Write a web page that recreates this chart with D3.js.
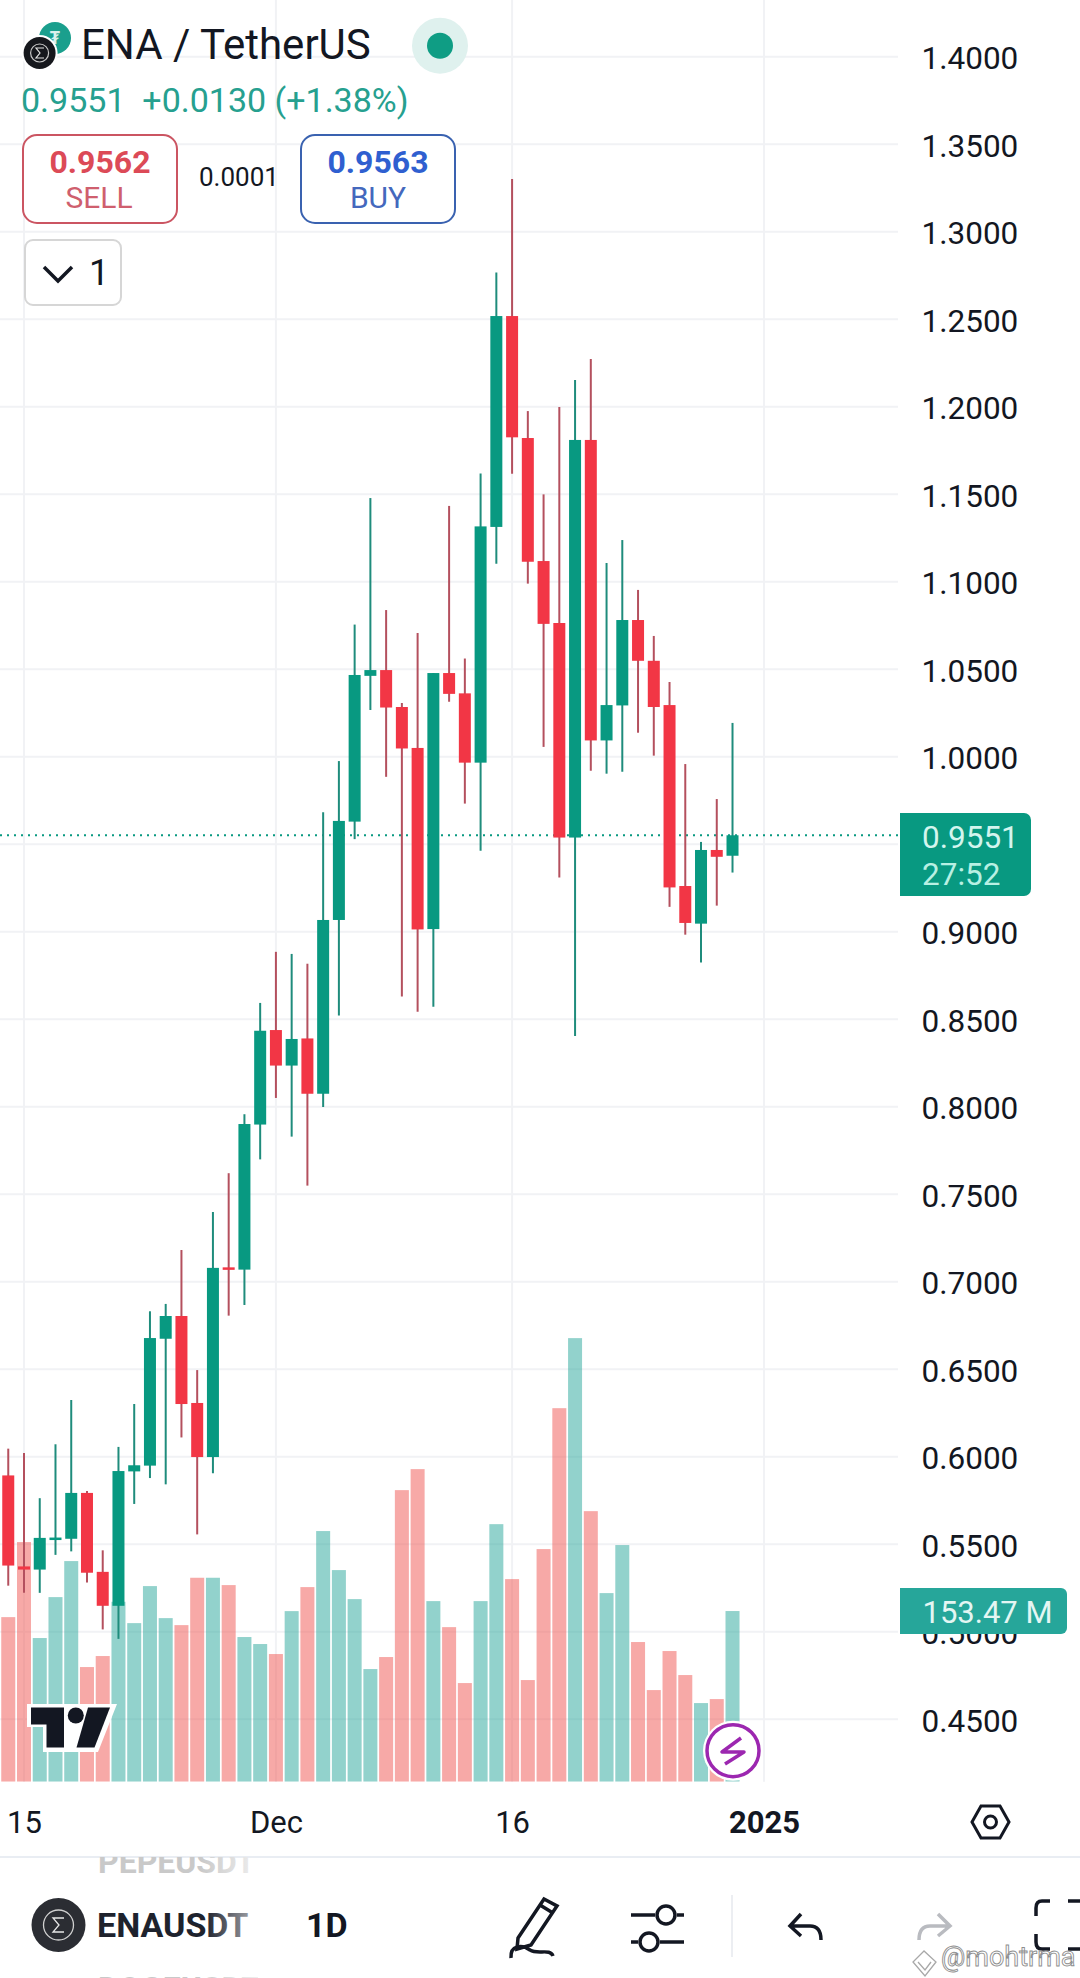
<!DOCTYPE html>
<html>
<head>
<meta charset="utf-8">
<script src="https://cdn.jsdelivr.net/npm/d3@7"></script>
<style>
  html, body { margin: 0; padding: 0; background: #fff; }
  svg { display: block; }
  text { font-family: Roboto, "Noto Sans", sans-serif; }
</style>
</head>
<body>
<div id="chart"></div>
<script>
// candles, daily bars (Nov 14 .. Dec 30)
const open = [0.5893, 0.5373, 0.5355, 0.5533, 0.5531, 0.5793, 0.5342, 0.5148, 0.5916, 0.5949, 0.6674, 0.6804, 0.6307, 0.5998, 0.7082, 0.7069, 0.7898, 0.8438, 0.8235, 0.8390, 0.8074, 0.9067, 0.9629, 1.0462, 1.0495, 1.0284, 1.0050, 0.9015, 1.0478, 1.0362, 0.9966, 1.1313, 1.2518, 1.1821, 1.1118, 1.0764, 0.9538, 1.1810, 1.0093, 1.0293, 1.0781, 1.0548, 1.0295, 0.9261, 0.9046, 0.9467, 0.9434]
const high = [0.6046, 0.6021, 0.5763, 0.6071, 0.6324, 0.5804, 0.5465, 0.6056, 0.6301, 0.6831, 0.6873, 0.7181, 0.6495, 0.7398, 0.7620, 0.7957, 0.8593, 0.8885, 0.8873, 0.8817, 0.9682, 0.9975, 1.0755, 1.1478, 1.0838, 1.0307, 1.0707, 1.0478, 1.1433, 1.0561, 1.1619, 1.2767, 1.3301, 1.1975, 1.1499, 1.1998, 1.2153, 1.2273, 1.1107, 1.1238, 1.0953, 1.0690, 1.0427, 0.9958, 0.9513, 0.9758, 1.0193]
const low = [0.5263, 0.5222, 0.5222, 0.5439, 0.5459, 0.5281, 0.5013, 0.4959, 0.5730, 0.5878, 0.5842, 0.6110, 0.5556, 0.5906, 0.6806, 0.6867, 0.7699, 0.8050, 0.7829, 0.7549, 0.7998, 0.8521, 0.9529, 1.0267, 0.9885, 0.8630, 0.8542, 0.8571, 1.0314, 0.9732, 0.9463, 1.1103, 1.1617, 1.0989, 1.0056, 0.9310, 0.8404, 0.9920, 0.9903, 0.9914, 1.0137, 1.0006, 0.9142, 0.8983, 0.8824, 0.9149, 0.9338]
const close = [0.5378, 0.5355, 0.5536, 0.5538, 0.5793, 0.5337, 0.5148, 0.5918, 0.5951, 0.6678, 0.6804, 0.6301, 0.5998, 0.7079, 0.7077, 0.7901, 0.8434, 0.8235, 0.8387, 0.8074, 0.9067, 0.9633, 1.0467, 1.0495, 1.0281, 1.0047, 0.9013, 1.0478, 1.0359, 0.9966, 1.1316, 1.2518, 1.1825, 1.1114, 1.0759, 0.9538, 1.1810, 1.0093, 1.0295, 1.0781, 1.0548, 1.0284, 0.9253, 0.9050, 0.9467, 0.9428, 0.9551]
// volume in millions
const volume = [148.0, 215.5, 129.2, 166.0, 198.4, 103.1, 113.0, 161.8, 142.6, 175.9, 147.1, 140.8, 183.4, 183.4, 176.8, 130.1, 123.8, 114.8, 153.4, 175.0, 225.4, 190.3, 164.2, 101.3, 112.1, 262.2, 281.1, 162.4, 139.0, 88.7, 162.4, 231.6, 182.2, 91.4, 209.2, 335.9, 398.9, 243.3, 169.6, 212.8, 125.6, 82.4, 117.5, 95.9, 70.7, 74.3, 153.47]

const priceTicks = [1.40, 1.35, 1.30, 1.25, 1.20, 1.15, 1.10, 1.05, 1.00, 0.95, 0.90, 0.85, 0.80, 0.75, 0.70, 0.65, 0.60, 0.55, 0.50, 0.45]
const timeTicks = [1, 17, 32, 48]
const timeLabels = ['15', 'Dec', '16', '2025']
const lastPrice = 0.9551

const width = 1080
const height = 1978
const paneRight = 898
const paneBottom = 1781.7

const upColor = '#089981'
const downColor = '#f23645'
const upWick = '#1f8c7c'
const downWick = '#b4505e'
const ink = '#131722'

const svg = d3.select('#chart').append('svg')
    .attr('width', width)
    .attr('height', height)

const x = d3.scaleLinear().domain([1, 48]).range([24, 764])
const y = d3.scaleLinear().domain([1.40, 0.45]).range([56.7, 1719.2])
const yVolume = d3.scaleLinear().domain([0, 400]).range([paneBottom, paneBottom - 444.8])

const isUp = (i) => close[i] >= open[i]
const bars = d3.range(open.length)

// fade for the scrolled symbol list
const defs = svg.append('defs')
const fade = defs.append('linearGradient').attr('id', 'fade')
    .attr('gradientUnits', 'userSpaceOnUse')
    .attr('x1', 205).attr('x2', 250).attr('y1', 0).attr('y2', 0)
fade.append('stop').attr('offset', 0).attr('stop-color', '#1e222d')
fade.append('stop').attr('offset', 1).attr('stop-color', '#9a9ca2')
const fadeGrey = defs.append('linearGradient').attr('id', 'fadeGrey')
    .attr('gradientUnits', 'userSpaceOnUse')
    .attr('x1', 200).attr('x2', 258).attr('y1', 0).attr('y2', 0)
fadeGrey.append('stop').attr('offset', 0).attr('stop-color', '#c9c9c9')
fadeGrey.append('stop').attr('offset', 1).attr('stop-color', '#efefef')
defs.append('clipPath').attr('id', 'listClip').append('rect')
    .attr('x', 0).attr('y', 1857).attr('width', 258).attr('height', 121)
defs.append('clipPath').attr('id', 'paneClip').append('rect')
    .attr('x', 0).attr('y', 0).attr('width', paneRight).attr('height', paneBottom)

// grid
const grid = svg.append('g').attr('class', 'grid')
    .attr('stroke', '#f1f2f5').attr('stroke-width', 2)
grid.selectAll('line.h').data(priceTicks).enter().append('line').attr('class', 'h')
    .attr('x1', 0).attr('x2', paneRight)
    .attr('y1', (d) => y(d)).attr('y2', (d) => y(d))
grid.selectAll('line.v').data(timeTicks).enter().append('line').attr('class', 'v')
    .attr('x1', (d) => x(d)).attr('x2', (d) => x(d))
    .attr('y1', 0).attr('y2', paneBottom)

const pane = svg.append('g').attr('clip-path', 'url(#paneClip)')

// volume
pane.append('g').attr('class', 'volume')
    .selectAll('rect').data(bars).enter().append('rect')
    .attr('x', (i) => x(i) - 7)
    .attr('width', 14)
    .attr('y', (i) => yVolume(volume[i]))
    .attr('height', (i) => yVolume(0) - yVolume(volume[i]))
    .attr('fill', (i) => isUp(i) ? '#26a69a' : '#ef5350')
    .attr('fill-opacity', 0.5)

// last price line
pane.append('line')
    .attr('x1', 0).attr('x2', paneRight)
    .attr('y1', y(lastPrice)).attr('y2', y(lastPrice))
    .attr('stroke', upColor).attr('stroke-width', 2)
    .attr('stroke-dasharray', '2 5')

// candles
const candles = pane.append('g').attr('class', 'candles')
candles.selectAll('line').data(bars).enter().append('line')
    .attr('x1', (i) => x(i)).attr('x2', (i) => x(i))
    .attr('y1', (i) => y(high[i])).attr('y2', (i) => y(low[i]))
    .attr('stroke', (i) => isUp(i) ? upWick : downWick)
    .attr('stroke-width', 2)
candles.selectAll('rect').data(bars).enter().append('rect')
    .attr('x', (i) => x(i) - 6)
    .attr('width', 12)
    .attr('y', (i) => y(Math.max(open[i], close[i])))
    .attr('height', (i) => Math.max(2.5, y(Math.min(open[i], close[i])) - y(Math.max(open[i], close[i]))))
    .attr('fill', (i) => isUp(i) ? upColor : downColor)

// price axis
const priceAxis = svg.append('g')
    .attr('transform', 'translate(921.5,0)')
    .call(d3.axisRight(y).tickValues(priceTicks).tickFormat(d3.format('.4f')).tickSize(0).tickPadding(0))
priceAxis.select('.domain').remove()
priceAxis.selectAll('text')
    .attr('dy', '0.39em')
    .style('font-family', 'Roboto')
    .style('font-size', '31.5px')
    .attr('fill', ink)

// time axis
const timeAxis = svg.append('g')
    .attr('transform', 'translate(0,1798)')
    .call(d3.axisBottom(x).tickValues(timeTicks).tickFormat((d, i) => timeLabels[i]).tickSize(0).tickPadding(0))
timeAxis.select('.domain').remove()
timeAxis.selectAll('text')
    .attr('y', 0).attr('dy', 35)
    .style('font-family', 'Roboto')
    .style('font-size', '31px')
    .style('font-weight', (d, i) => i === 3 ? 700 : 400)
    .attr('fill', ink)

// price and volume tags
const tagPrice = svg.append('g')
tagPrice.append('path')
    .attr('d', 'M900,813H1024a7,7 0 0 1 7,7V889a7,7 0 0 1 -7,7H900Z')
    .attr('fill', upColor)
tagPrice.append('text').attr('x', 922).attr('y', 847.5).attr('font-size', 31.5).attr('fill', '#d3f5ee').text('0.9551')
tagPrice.append('text').attr('x', 922).attr('y', 885).attr('font-size', 31.5).attr('fill', '#b8f0e3').text('27:52')

const tagVolume = svg.append('g')
tagVolume.append('path')
    .attr('d', 'M900,1588H1061a6,6 0 0 1 6,6V1628a6,6 0 0 1 -6,6H900Z')
    .attr('fill', '#26a69a')
tagVolume.append('text').attr('x', 922.5).attr('y', 1622.7).attr('font-size', 31).attr('fill', '#e4f6f3').text('153.47 M')

// header
const head = svg.append('g')
head.append('circle').attr('cx', 55).attr('cy', 38).attr('r', 16).attr('fill', '#1a9f8d')
head.append('text').attr('x', 55).attr('y', 44).attr('text-anchor', 'middle')
    .attr('font-size', 18).attr('font-weight', 700).attr('fill', '#d9f0ec').text('₮')
head.append('circle').attr('cx', 39.6).attr('cy', 53).attr('r', 18).attr('fill', '#fff')
head.append('circle').attr('cx', 39.6).attr('cy', 53).attr('r', 16).attr('fill', '#16181d')
head.append('circle').attr('cx', 39.6).attr('cy', 53).attr('r', 9).attr('fill', 'none')
    .attr('stroke', '#c8c8c8').attr('stroke-width', 1.2)
head.append('path').attr('d', 'M44,48H36L40,53L36,58H44').attr('fill', 'none')
    .attr('stroke', '#e4e4e4').attr('stroke-width', 1.2)
head.append('text').attr('x', 81).attr('y', 59).attr('font-size', 42).attr('fill', ink).text('ENA / TetherUS')
head.append('circle').attr('cx', 440).attr('cy', 45.7).attr('r', 28).attr('fill', '#dff1ee')
head.append('circle').attr('cx', 440).attr('cy', 45.7).attr('r', 13).attr('fill', '#0f9d84')
head.append('text').attr('x', 21).attr('y', 112).attr('font-size', 34).attr('fill', '#26a08f')
    .attr('xml:space', 'preserve').text('0.9551  +0.0130 (+1.38%)')

// sell, buy and the order count
head.append('rect').attr('x', 23).attr('y', 135).attr('width', 154).attr('height', 88).attr('rx', 14)
    .attr('fill', '#fff').attr('stroke', '#cb5562').attr('stroke-width', 2)
head.append('text').attr('x', 100).attr('y', 173).attr('text-anchor', 'middle')
    .attr('font-size', 32).attr('font-weight', 700).attr('fill', '#dc4a57').text('0.9562')
head.append('text').attr('x', 99).attr('y', 208).attr('text-anchor', 'middle')
    .attr('font-size', 30).attr('fill', '#cf5f6e').text('SELL')
head.append('text').attr('x', 199).attr('y', 186).attr('font-size', 26).attr('fill', ink).text('0.0001')
head.append('rect').attr('x', 301).attr('y', 135).attr('width', 154).attr('height', 88).attr('rx', 14)
    .attr('fill', '#fff').attr('stroke', '#3a62b0').attr('stroke-width', 2)
head.append('text').attr('x', 378).attr('y', 173).attr('text-anchor', 'middle')
    .attr('font-size', 32).attr('font-weight', 700).attr('fill', '#2f5fd0').text('0.9563')
head.append('text').attr('x', 378).attr('y', 208).attr('text-anchor', 'middle')
    .attr('font-size', 30).attr('fill', '#4468bd').text('BUY')
head.append('rect').attr('x', 25).attr('y', 240).attr('width', 96).attr('height', 65).attr('rx', 8)
    .attr('fill', '#fff').attr('stroke', '#d6d6d6').attr('stroke-width', 2)
head.append('path').attr('d', 'M44,267L58,281L72,267').attr('fill', 'none')
    .attr('stroke', ink).attr('stroke-width', 3.5)
head.append('text').attr('x', 89).attr('y', 285).attr('font-size', 36).attr('fill', ink).text('1')

// tradingview mark
const logo = svg.append('g')
logo.append('path').attr('d', 'M27,1704H117L98,1752H43V1727H27Z').attr('fill', '#fff')
logo.append('path').attr('d', 'M31,1707.5H64V1747.5H46.5V1724.5H31Z').attr('fill', ink)
logo.append('circle').attr('cx', 75.8).attr('cy', 1715.5).attr('r', 8).attr('fill', ink)
logo.append('path').attr('d', 'M88,1707.5H110L94.5,1747.5H76.5Z').attr('fill', ink)

// lightning badge
const badge = svg.append('g')
badge.append('circle').attr('cx', 733).attr('cy', 1750.7).attr('r', 30).attr('fill', '#fff')
badge.append('circle').attr('cx', 733).attr('cy', 1750.7).attr('r', 26).attr('fill', '#fff')
    .attr('stroke', '#9c27b0').attr('stroke-width', 3.5)
badge.append('path').attr('d', 'M741,1738L722,1752H744L725,1764').attr('fill', 'none')
    .attr('stroke', '#9c27b0').attr('stroke-width', 3.5).attr('stroke-linejoin', 'round')

// settings hexagon
const hex = svg.append('g').attr('fill', 'none').attr('stroke', ink).attr('stroke-width', 3)
hex.append('path').attr('d', 'M981,1806H1000L1009,1822L1000,1838H981L972,1822Z')
hex.append('circle').attr('cx', 990.5).attr('cy', 1822).attr('r', 6)

// bottom toolbar
svg.append('line').attr('x1', 0).attr('x2', width).attr('y1', 1857).attr('y2', 1857)
    .attr('stroke', '#e9edf3').attr('stroke-width', 2)
const list = svg.append('g').attr('clip-path', 'url(#listClip)')
list.append('text').attr('x', 98).attr('y', 1873).attr('font-size', 32).attr('font-weight', 700)
    .attr('fill', 'url(#fadeGrey)').text('PEPEUSDT')
list.append('text').attr('x', 98).attr('y', 1999).attr('font-size', 32).attr('font-weight', 700)
    .attr('fill', 'url(#fadeGrey)').text('DOGEUSDT')
list.append('text').attr('x', 97).attr('y', 1936.7).attr('font-size', 34).attr('font-weight', 700)
    .attr('fill', 'url(#fade)').text('ENAUSDT')

const bar = svg.append('g')
bar.append('circle').attr('cx', 58.5).attr('cy', 1925).attr('r', 27).attr('fill', '#2b2d33')
bar.append('circle').attr('cx', 58.5).attr('cy', 1925).attr('r', 15).attr('fill', 'none')
    .attr('stroke', '#d0d0d0').attr('stroke-width', 1.3)
bar.append('path').attr('d', 'M64,1918H53L59,1925L53,1932H64').attr('fill', 'none')
    .attr('stroke', '#e6e6e6').attr('stroke-width', 1.3)
bar.append('text').attr('x', 306).attr('y', 1937).attr('font-size', 34).attr('font-weight', 700)
    .attr('fill', ink).text('1D')

const tools = bar.append('g').attr('fill', 'none').attr('stroke', ink).attr('stroke-width', 3.5)
// pencil with squiggle
tools.append('path').attr('d', 'M518,1938L544,1899L557,1906L531,1945L517,1949Z M540,1905L553,1913')
tools.append('path').attr('d', 'M511,1958C510,1945 522,1944 530,1950C538,1955 550,1948 553,1956')
// sliders
tools.append('path').attr('d', 'M631,1915H655M677,1915H684M631,1942H638M660,1942H684')
tools.append('circle').attr('cx', 666).attr('cy', 1915).attr('r', 9)
tools.append('circle').attr('cx', 649).attr('cy', 1942).attr('r', 9)
bar.append('line').attr('x1', 732).attr('x2', 732).attr('y1', 1895).attr('y2', 1957)
    .attr('stroke', '#eceef2').attr('stroke-width', 2)
// undo, redo
tools.append('path').attr('d', 'M801,1914L790,1926L801,1936M790,1926H810C818,1926 821,1931 821,1940')
tools.append('path').attr('d', 'M938,1914L950,1926L938,1936M950,1926H930C922,1926 919,1931 919,1940')
    .attr('stroke', '#b9bbc0')
// fullscreen, cut off by the edge
tools.append('path').attr('d', 'M1050,1901H1042C1037,1901 1036,1904 1036,1908V1916M1036,1934V1942C1036,1946 1037,1949 1042,1949H1050')
tools.append('path').attr('d', 'M1068,1901H1080M1068,1949H1080')

// watermark
const mark = svg.append('g')
mark.append('path').attr('d', 'M924,1951L913,1962L925,1976L936,1962Z M918,1962L925,1970L931,1962')
    .attr('fill', 'none').attr('stroke', '#a8a8a8').attr('stroke-width', 1.3)
mark.append('text').attr('x', 941).attr('y', 1966).attr('font-size', 27)
    .attr('fill', '#fff').attr('stroke', '#8e8e8e').attr('stroke-width', 0.9).text('@mohtrma')
</script>
</body>
</html>
